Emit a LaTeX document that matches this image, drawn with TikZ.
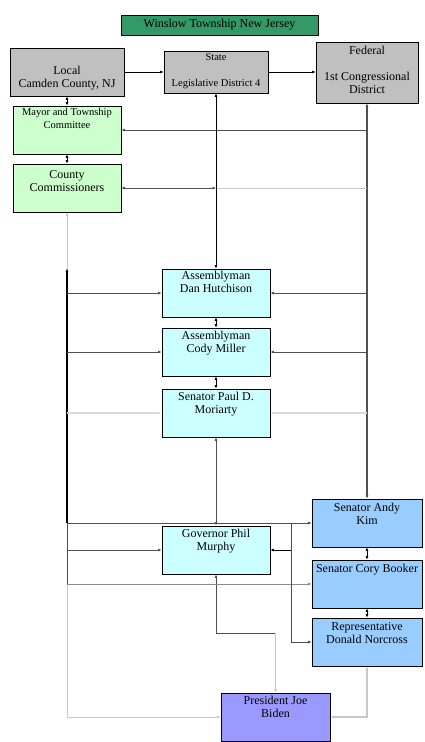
\documentclass[tikz,border=0pt]{standalone}
\usepackage{fontspec}
\setmainfont{Liberation Serif}
\usetikzlibrary{arrows.meta,calc}
\definecolor{titlegreen}{HTML}{339966}
\definecolor{boxgray}{HTML}{C0C0C0}
\definecolor{lgreen}{HTML}{CCFFCC}
\definecolor{lcyan}{HTML}{CCFFFF}
\definecolor{lblue}{HTML}{99CCFF}
\definecolor{lpurple}{HTML}{9999FF}
\definecolor{dgray}{HTML}{505050}
\definecolor{mgray}{HTML}{8C8C8C}
\definecolor{lgray}{HTML}{C8C8C8}
\definecolor{vlgray}{HTML}{D9D9D9}
\begin{document}
\begin{tikzpicture}[x=1pt,y=-1pt,
  box/.style={draw=black,line width=0.9pt,rectangle,inner sep=0pt,minimum width=108pt,minimum height=48pt},
  txt/.style={anchor=north,align=center,inner sep=0pt,font=\fontsize{12}{13}\selectfont,execute at begin node=\strut},
  stxt/.style={anchor=north,align=center,inner sep=0pt,font=\fontsize{10.5}{13}\selectfont,execute at begin node=\strut},
  con/.style={line width=0.7pt},
  tip/.style={-{Latex[length=3.4pt,width=3pt]}},
  rtip/.style={{Latex[length=3.4pt,width=3pt]}-},
  btip/.style={{Latex[length=3.4pt,width=3pt]}-{Latex[length=3.4pt,width=3pt]}}
]
\useasboundingbox (0,0) rectangle (425,742);
\fill[white] (0,0) rectangle (425,742);
% boxes
\node[box,fill=titlegreen,minimum width=197pt,minimum height=20pt,font=\fontsize{12}{13}\selectfont] (title) at (219.5,25) {Winslow Township New Jersey};
\node[box,fill=boxgray,minimum width=114pt] (local) at (67,72) {};
\node[box,fill=boxgray,minimum width=104pt,minimum height=42pt] (state) at (216,72) {};
\node[box,fill=boxgray,minimum width=102pt,minimum height=61pt] (federal) at (367,72.5) {};
\node[box,fill=lgreen] (mayor) at (67,130) {};
\node[box,fill=lgreen] (county) at (67,188) {};
\node[box,fill=lcyan] (dan) at (216,293) {};
\node[box,fill=lcyan] (cody) at (216,352) {};
\node[box,fill=lcyan] (paul) at (216,413) {};
\node[box,fill=lcyan] (gov) at (216,550) {};
\node[box,fill=lblue,minimum width=110pt] (kim) at (367,523) {};
\node[box,fill=lblue,minimum width=110pt] (booker) at (367,584) {};
\node[box,fill=lblue,minimum width=110pt] (norcross) at (367,642) {};
\node[box,fill=lpurple,minimum width=109pt] (biden) at (275.5,717) {};
% texts (offset = baseline below box top - 9.1)
\node[txt] (localt) at ($(local.north)+(0,27.5-9.1)$) {Local\\Camden County, NJ};
\node[stxt] (statet) at ($(state.north)+(0,11.5-9.1)$) {State\\ \\Legislative District 4};
\node[txt] (federalt) at ($(federal.north)+(0,13.5-9.1)$) {Federal\\ \\1st Congressional\\District};
\node[stxt] (mayort) at ($(mayor.north)+(0,12-9.1)$) {Mayor and Township\\Committee};
\node[txt] (countyt) at ($(county.north)+(0,16-9.1)$) {County\\Commissioners};
\node[txt] (dant) at ($(dan.north)+(0,12-9.1)$) {Assemblyman\\Dan Hutchison};
\node[txt] (codyt) at ($(cody.north)+(0,13-9.1)$) {Assemblyman\\Cody Miller};
\node[txt] (pault) at ($(paul.north)+(0,13-9.1)$) {Senator Paul D.\\Moriarty};
\node[txt] (govt) at ($(gov.north)+(0,13-9.1)$) {Governor Phil\\Murphy};
\node[txt] (kimt) at ($(kim.north)+(0,14-9.1)$) {Senator Andy\\Kim};
\node[txt] (bookert) at ($(booker.north)+(0,13-9.1)$) {Senator Cory Booker};
\node[txt] (norcrosst) at ($(norcross.north)+(0,14-9.1)$) {Representative\\Donald Norcross};
\node[txt] (bident) at ($(biden.north)+(0,13-9.1)$) {President Joe\\Biden};
% junction coordinates
\coordinate (g1) at ($(gov.south)+(0,59)$);
\coordinate (x2) at (291,523);
\coordinate (x2b) at (291,642);
\coordinate (x2g) at (291,550);
% top row
\draw[con,tip,black] (local.east) -- (state.west);
\draw[con,tip,black] (state.east) -- (federal.west |- state.east);
\draw[con,btip,black] (local.south) -- (mayor.north);
\draw[con,btip,black] (mayor.south) -- (county.north);
% right rail
\draw[line width=1.2pt,btip,dgray] (federal.south) -- (kim.north);
\draw[con,tip,dgray] (federal.south |- mayor.east) -- (mayor.east);
\draw[con,lgray] (federal.south |- county.east) -- (state.south |- county.east);
\draw[line width=0.9pt,btip,dgray] (county.east) -- (state.south |- county.east);
\draw[con,tip,dgray] (federal.south |- dan.east) -- (dan.east);
\draw[con,tip,dgray] (federal.south |- cody.east) -- (cody.east);
\draw[line width=1.3pt,tip,vlgray] (federal.south |- paul.east) -- (paul.east);
% middle column
\draw[con,btip,black] (state.south) -- (dan.north);
\draw[con,btip,black] (dan.south) -- (cody.north);
\draw[con,btip,black] (cody.south) -- (paul.north);
\draw[con,btip,dgray] (paul.south) -- (gov.north);
\draw[con,rtip,dgray] (gov.south) -- (g1) -- (biden.north |- g1);
\draw[tip,lgray,line width=0.9pt] (biden.north |- g1) -- (biden.north);
% left rail
\draw[line width=1pt,btip,lgray] (county.south) -- (county.south |- biden.west) -- (biden.west);
\draw[line width=1.2pt,tip,black] (county.south |- kim.west) -- (county.south |- dan.north);
\draw[line width=1pt,dgray] (county.south |- kim.west) -- (county.south |- booker.west);
\draw[con,tip,dgray] (county.south |- dan.west) -- (dan.west);
\draw[con,tip,dgray] (county.south |- cody.west) -- (cody.west);
\draw[line width=1.3pt,tip,vlgray] (county.south |- paul.west) -- (paul.west);
\draw[con,tip,dgray] (county.south |- kim.west) -- (kim.west);
\draw[con,tip,dgray] (county.south |- gov.west) -- (gov.west);
\draw[con,tip,mgray] (county.south |- booker.west) -- (booker.west);
% right lower
\draw[con,btip,black] (kim.south) -- (booker.north);
\draw[con,btip,black] (booker.south) -- (norcross.north);
\draw[line width=1.1pt,btip,lgray] (norcross.south) -- (norcross.south |- biden.east) -- (biden.east);
\draw[con,tip,dgray] (x2) -- (x2b) -- (norcross.west);
\draw[line width=0.9pt,tip,black] (x2g) -- (gov.east);
\end{tikzpicture}
\end{document}
